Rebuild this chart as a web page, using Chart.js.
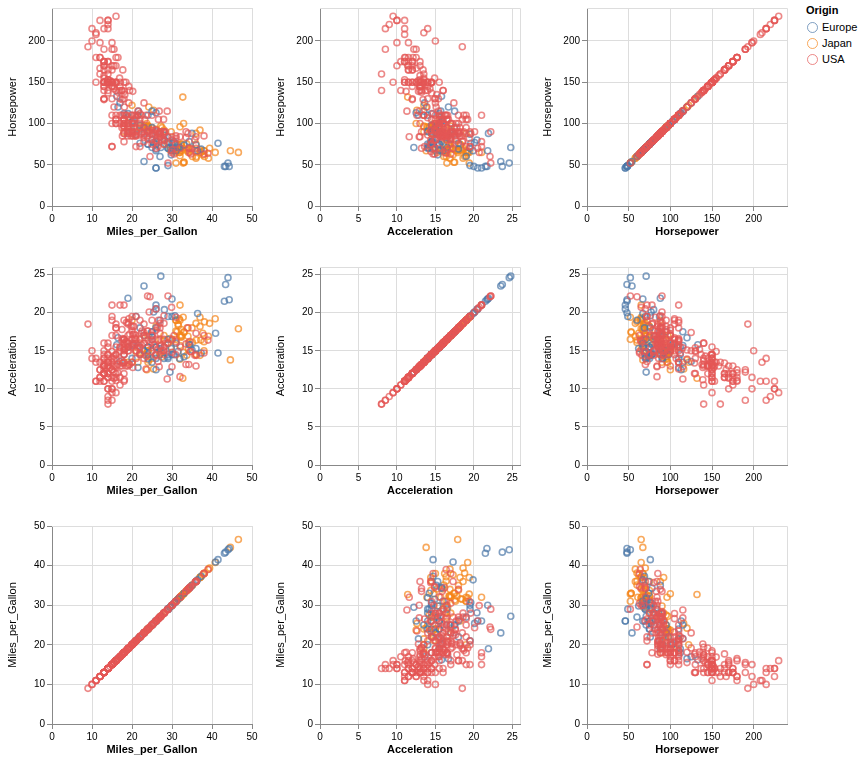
<!DOCTYPE html>
<html>
<head>
<meta charset="utf-8">
<script src="https://cdn.jsdelivr.net/npm/chart.js@4"></script>
<style>
  body { margin: 0; background: #fff; font-family: "Liberation Sans", Arial, Helvetica, sans-serif; }
  #wrap { position: relative; width: 861px; height: 762px; }
  #wrap canvas { position: absolute; }
  .lg-title { position: absolute; left: 806px; top: 4px; font-size: 11px; font-weight: bold; color: #000; }
  .lg-item { position: absolute; left: 807px; font-size: 11px; color: #000; line-height: 12px; }
  .lg-dot { display: inline-block; box-sizing: border-box; width: 11px; height: 11px; border: 1.5px solid; border-radius: 50%; opacity: 0.7; vertical-align: -2px; margin-right: 4px; }
</style>
</head>
<body>
<div id="wrap"></div>
<script>
var originNames = ['Europe', 'Japan', 'USA'];
var originColors = ['rgba(76,120,168,0.7)', 'rgba(245,133,24,0.7)', 'rgba(228,87,86,0.7)'];

// one row per car: [Miles_per_Gallon, Horsepower, Acceleration]
var europeCars = [
  [null,115,17.5],[26,46,20.5],[25,87,17.5],[24,90,14.5],[25,95,17.5],[26,113,12.5],[null,48,20.0],
  [28,90,14.0],[30,70,19.5],[30,76,14.5],[27,60,19.0],[23,54,23.5],[18,112,14.5],[22,76,18.0],
  [21,87,19.5],[26,69,18.0],[26,46,21.0],[26,90,15.5],[29,49,19.5],[24,75,15.5],[20,91,14.0],
  [19,112,15.5],[24,110,14.0],[29,83,16.5],[26,67,15.5],[26,78,14.5],[24,75,15.5],[26,75,14.0],
  [31,67,16.0],[25,71,16.5],[29,70,14.0],[23,95,15.0],[23,88,17.0],[22,98,14.5],[25,115,13.5],
  [28,86,15.5],[25,81,16.9],[27,83,15.3],[29,70,14.2],[29.5,71,12.2],[20,102,15.7],[19,88,21.9],
  [16.5,120,16.7],[29,78,14.5],[30.5,78,14.5],[21.5,110,12.8],[43.1,48,21.5],[20.3,103,15.9],
  [17,125,13.6],[21.6,115,15.7],[16.2,133,15.8],[31.5,71,14.9],[31.9,71,14.0],[25.4,77,20.1],
  [27.2,71,24.8],[37.3,69,14.7],[41.5,76,14.7],[34.3,78,15.8],[44.3,48,21.7],[43.4,48,23.7],
  [36.4,67,19.9],[30,67,21.8],[40.9,null,17.3],[29.8,62,15.3],[35,88,15.1],[33,74,14.2],
  [34.5,null,15.8],[28.1,80,20.4],[30.7,76,19.6],[36,74,15.3],[44,52,24.6]
];
var japanCars = [
  [24,95,15.0],[27,88,14.5],[27,88,14.5],[25,95,14.0],[31,65,19.0],[35,69,18.0],[24,95,15.5],
  [19,97,13.5],[28,92,17.0],[23,97,14.5],[27,88,16.5],[20,88,19.0],[22,94,16.5],[18,90,13.5],
  [20,122,13.5],[31,67,19.0],[32,65,21.0],[31,52,16.5],[32,61,19.0],[24,97,15.0],[26,93,15.5],
  [29,75,16.0],[24,96,13.5],[24,97,17.0],[33,53,17.5],[33,53,17.4],[32,70,17.0],[28,75,16.4],
  [19,108,15.5],[31.5,68,18.5],[36,58,18.6],[26,75,18.2],[30,67,16.4],[22,97,14.7],[21.5,110,13.5],
  [32.8,52,19.4],[39.4,70,18.6],[36.1,60,16.4],[27.5,95,14.2],[27.2,97,14.7],[21.1,95,14.8],
  [23.9,97,14.9],[29.5,68,16.6],[34.1,65,15.2],[31.8,65,19.2],[38.1,60,18.8],[37.2,65,16.4],
  [29.8,90,15.5],[31.3,75,17.5],[37,92,14.4],[32.2,75,16.8],[46.6,65,17.9],[40.8,65,19.2],
  [44.6,67,13.8],[33.8,67,18.0],[32.7,132,11.4],[23.7,100,12.5],[32.4,72,17.0],[39.1,58,16.9],
  [35.1,60,16.1],[32.3,67,17.8],[37,65,19.4],[37.7,62,17.3],[34.1,68,16.0],[33.7,75,14.4],
  [32.4,75,16.8],[32.9,100,14.8],[31.6,74,18.3],[25.4,116,12.6],[24.2,120,13.8],[37,68,18.2],
  [31,68,17.6],[36,88,14.5],[36,75,14.5],[34,70,16.9],[38,67,15.0],[32,67,15.7],[38,67,16.2],
  [32,96,13.9]
];
var usaCars = [
  [18,130,12.0],[15,165,11.5],[18,150,11.0],[16,150,12.0],[17,140,10.5],[15,198,10.0],[14,220,9.0],
  [14,215,8.5],[14,225,10.0],[15,190,8.5],[null,165,11.5],[null,153,11.0],[null,175,10.5],
  [null,175,11.0],[15,170,10.0],[14,160,8.0],[null,140,8.0],[15,150,9.5],[14,225,10.0],[22,95,15.5],
  [18,97,15.5],[21,85,16.0],[21,90,15.0],[10,215,14.0],[10,200,15.0],[11,210,13.5],[9,193,18.5],
  [28,90,15.5],[25,null,19.0],[19,100,13.0],[16,105,15.5],[17,100,15.5],[19,88,15.5],[18,100,15.5],
  [14,165,12.0],[14,175,11.5],[14,153,13.5],[14,150,13.0],[12,180,11.5],[13,170,12.0],[13,175,12.0],
  [18,110,13.5],[22,72,19.0],[19,100,15.0],[18,88,14.5],[23,86,14.0],[26,70,20.5],[25,80,17.0],
  [20,90,19.5],[21,86,16.5],[13,165,12.0],[14,175,12.0],[15,150,13.5],[14,153,13.0],[17,150,11.5],
  [11,208,11.0],[13,155,13.5],[12,160,13.5],[13,190,12.5],[15,150,12.5],[13,130,14.0],[13,140,16.0],
  [14,150,14.0],[22,86,16.0],[28,80,15.0],[13,175,13.0],[14,150,11.5],[13,145,13.0],[14,137,14.5],
  [15,150,12.5],[12,198,11.5],[13,150,12.0],[13,158,13.0],[14,150,14.5],[13,215,11.0],[12,225,11.0],
  [13,175,11.0],[18,105,16.5],[16,100,18.0],[18,100,16.0],[18,88,16.5],[23,95,16.0],[11,150,14.0],
  [12,167,12.5],[13,170,13.0],[12,180,12.5],[18,100,15.0],[21,72,19.5],[19,85,18.5],[21,107,14.0],
  [15,145,13.0],[16,230,9.5],[15,150,11.0],[11,180,11.0],[20,95,16.5],[21,null,17.0],[19,100,16.0],
  [15,100,17.0],[26,80,16.5],[25,75,17.0],[16,100,17.0],[16,110,18.0],[18,105,16.5],[16,140,14.0],
  [13,150,14.5],[14,150,13.5],[14,140,16.0],[14,150,15.5],[28,75,14.5],[19,95,16.0],[18,105,16.0],
  [15,72,21.0],[15,72,19.5],[16,170,11.5],[15,145,14.0],[16,150,14.5],[14,148,13.5],[17,110,21.0],
  [16,105,18.5],[15,110,19.0],[18,95,19.0],[21,110,15.0],[20,110,13.5],[13,129,12.0],[23,83,17.0],
  [20,100,16.0],[23,78,18.5],[18,97,14.5],[19,90,17.0],[25,92,14.9],[26,79,17.7],[17.5,140,13.0],
  [16,150,13.0],[15.5,120,13.9],[14.5,152,12.8],[22,100,15.4],[22,105,14.5],[24,81,17.6],
  [22.5,90,17.6],[29,52,22.2],[24.5,60,22.1],[20,100,17.7],[18,78,21.0],[18.5,110,16.2],
  [17.5,95,17.8],[26.5,72,13.6],[13,150,13.2],[16.5,180,12.1],[13,145,12.0],[13,130,15.0],
  [13,150,14.0],[30,80,14.8],[36.1,66,14.4],[17.5,110,16.4],[15.5,145,13.0],[15,130,14.9],
  [17,145,13.0],[16,180,11.1],[15.5,170,11.4],[15.5,190,12.2],[16,149,14.5],[24.5,88,16.0],
  [25.5,89,15.8],[30.5,63,17.0],[33.5,83,15.9],[19.9,110,15.5],[19.4,140,13.2],[20.2,139,12.8],
  [19.2,105,19.2],[20.5,95,18.2],[20.2,85,15.8],[25.1,88,15.4],[20.5,100,17.2],[19.4,90,17.2],
  [20.6,105,15.8],[20.8,85,16.7],[18.6,110,18.7],[18.1,120,15.1],[19.2,145,13.2],[17.7,165,13.4],
  [18.1,139,11.2],[17.5,140,13.7],[30,68,16.5],[30.9,75,14.5],[23.2,105,16.7],[23.8,85,17.6],
  [21.5,115,15.4],[19.8,85,18.2],[22.3,88,17.3],[20.2,90,18.2],[20.6,110,16.6],[17,130,15.4],
  [17.6,129,13.4],[16.5,138,13.2],[18.2,135,15.2],[16.9,155,14.9],[15.5,142,14.3],[19.2,125,15.0],
  [18.5,150,13.0],[35.7,80,14.4],[27.4,80,15.0],[23,125,17.4],[23.9,90,22.2],[34.2,70,13.2],
  [34.5,70,14.9],[28.4,90,16.0],[28.8,115,11.3],[26.8,115,12.9],[33.5,90,13.2],[32.1,70,15.5],
  [28,90,16.5],[26.4,88,18.1],[24.3,90,20.1],[19.1,90,18.7],[27.9,105,15.0],[23.6,null,14.3],
  [27.2,84,15.7],[26.6,84,16.4],[25.8,92,14.4],[23.5,110,12.6],[30,84,12.9],[39,64,16.4],
  [34.7,63,14.9],[34.4,65,16.2],[29.9,65,20.7],[22.4,110,15.8],[26.6,105,19.0],[20.2,88,17.1],
  [17.6,85,16.6],[28,88,19.6],[27,88,18.6],[34,88,18.0],[31,85,16.2],[29,84,16.0],[27,90,18.0],
  [24,92,16.4],[38,63,14.7],[36,70,17.3],[25,110,16.4],[38,85,17.0],[26,92,14.5],[22,112,14.7],
  [36,84,13.0],[27,90,17.3],[27,86,15.6],[32,84,11.6],[28,79,18.6],[31,82,19.4]
];

var fieldNames = ['Miles_per_Gallon', 'Horsepower', 'Acceleration'];
var fieldMax = [50, 240, 26];
var mpgTicks = [0, 10, 20, 30, 40, 50];
var hpTicks = [0, 50, 100, 150, 200];
var accTicks = [0, 5, 10, 15, 20, 25];
var fieldTicks = [mpgTicks, hpTicks, accTicks];

var rowFields = [1, 2, 0];   // Horsepower, Acceleration, Miles_per_Gallon
var colFields = [0, 2, 1];   // Miles_per_Gallon, Acceleration, Horsepower

var fontFamily = '"Liberation Sans", Arial, Helvetica, sans-serif';
var carsByOrigin = [europeCars, japanCars, usaCars];
var drawOrder = [2, 0, 1];

var framePlugin = {
  id: 'frame',
  beforeDatasetsDraw: function(chart) {
    var a = chart.chartArea, ctx = chart.ctx;
    var top = Math.round(a.top) + 0.5, right = Math.round(a.right) + 0.5;
    ctx.save();
    ctx.strokeStyle = '#ddd';
    ctx.lineWidth = 1;
    ctx.beginPath();
    ctx.moveTo(Math.round(a.left), top);
    ctx.lineTo(right, top);
    ctx.lineTo(right, Math.round(a.bottom));
    ctx.stroke();
    ctx.restore();
  }
};

function axisOptions(f, isX) {
  return {
    type: 'linear',
    position: isX ? 'bottom' : 'left',
    min: 0,
    max: fieldMax[f],
    afterBuildTicks: function(scale) {
      scale.ticks = fieldTicks[f].map(function(v) { return { value: v }; });
    },
    afterFit: function(scale) {
      if (isX) scale.height = 42; else scale.width = 52;
    },
    grid: { color: '#ddd', tickColor: '#888', tickLength: 5, lineWidth: 1 },
    border: { color: '#888' },
    ticks: {
      color: '#000',
      padding: 2,
      maxRotation: 0,
      autoSkip: false,
      font: { size: 10, family: fontFamily }
    },
    title: {
      display: true,
      text: fieldNames[f],
      color: '#000',
      font: { size: 11, weight: isX ? 'bold' : 'normal', family: fontFamily },
      padding: isX ? { top: 0, bottom: 9 } : { top: 6, bottom: 0 }
    }
  };
}

function buildPanel(row, col) {
  var xf = colFields[col], yf = rowFields[row];
  var canvas = document.createElement('canvas');
  canvas.width = 266;
  canvas.height = 248;
  canvas.style.left = (col * 267.7).toFixed(1) + 'px';
  canvas.style.top = (row * 259) + 'px';
  document.getElementById('wrap').appendChild(canvas);

  var datasets = drawOrder.map(function(o) {
    var pts = carsByOrigin[o]
      .filter(function(r) { return r[xf] !== null && r[yf] !== null; })
      .map(function(r) { return { x: r[xf], y: r[yf] }; });
    return {
      label: originNames[o],
      data: pts,
      borderColor: originColors[o],
      backgroundColor: 'rgba(0,0,0,0)',
      borderWidth: 1.6,
      pointRadius: 3,
      pointHoverRadius: 3
    };
  });

  new Chart(canvas, {
    type: 'scatter',
    data: { datasets: datasets },
    options: {
      responsive: false,
      animation: false,
      events: [],
      layout: { padding: { top: 6, right: 14, left: 0, bottom: 0 } },
      plugins: { legend: { display: false }, tooltip: { enabled: false } },
      scales: { x: axisOptions(xf, true), y: axisOptions(yf, false) }
    },
    plugins: [framePlugin]
  });
}

function buildLegend() {
  var wrap = document.getElementById('wrap');
  var title = document.createElement('div');
  title.className = 'lg-title';
  title.textContent = 'Origin';
  wrap.appendChild(title);
  originNames.forEach(function(name, i) {
    var item = document.createElement('div');
    item.className = 'lg-item';
    item.style.top = (21 + i * 16) + 'px';
    var dot = document.createElement('span');
    dot.className = 'lg-dot';
    dot.style.borderColor = originColors[i].replace('0.7)', '1)');
    item.appendChild(dot);
    item.appendChild(document.createTextNode(name));
    wrap.appendChild(item);
  });
}

for (var r = 0; r < 3; r++) {
  for (var c = 0; c < 3; c++) buildPanel(r, c);
}
buildLegend();
</script>
</body>
</html>
